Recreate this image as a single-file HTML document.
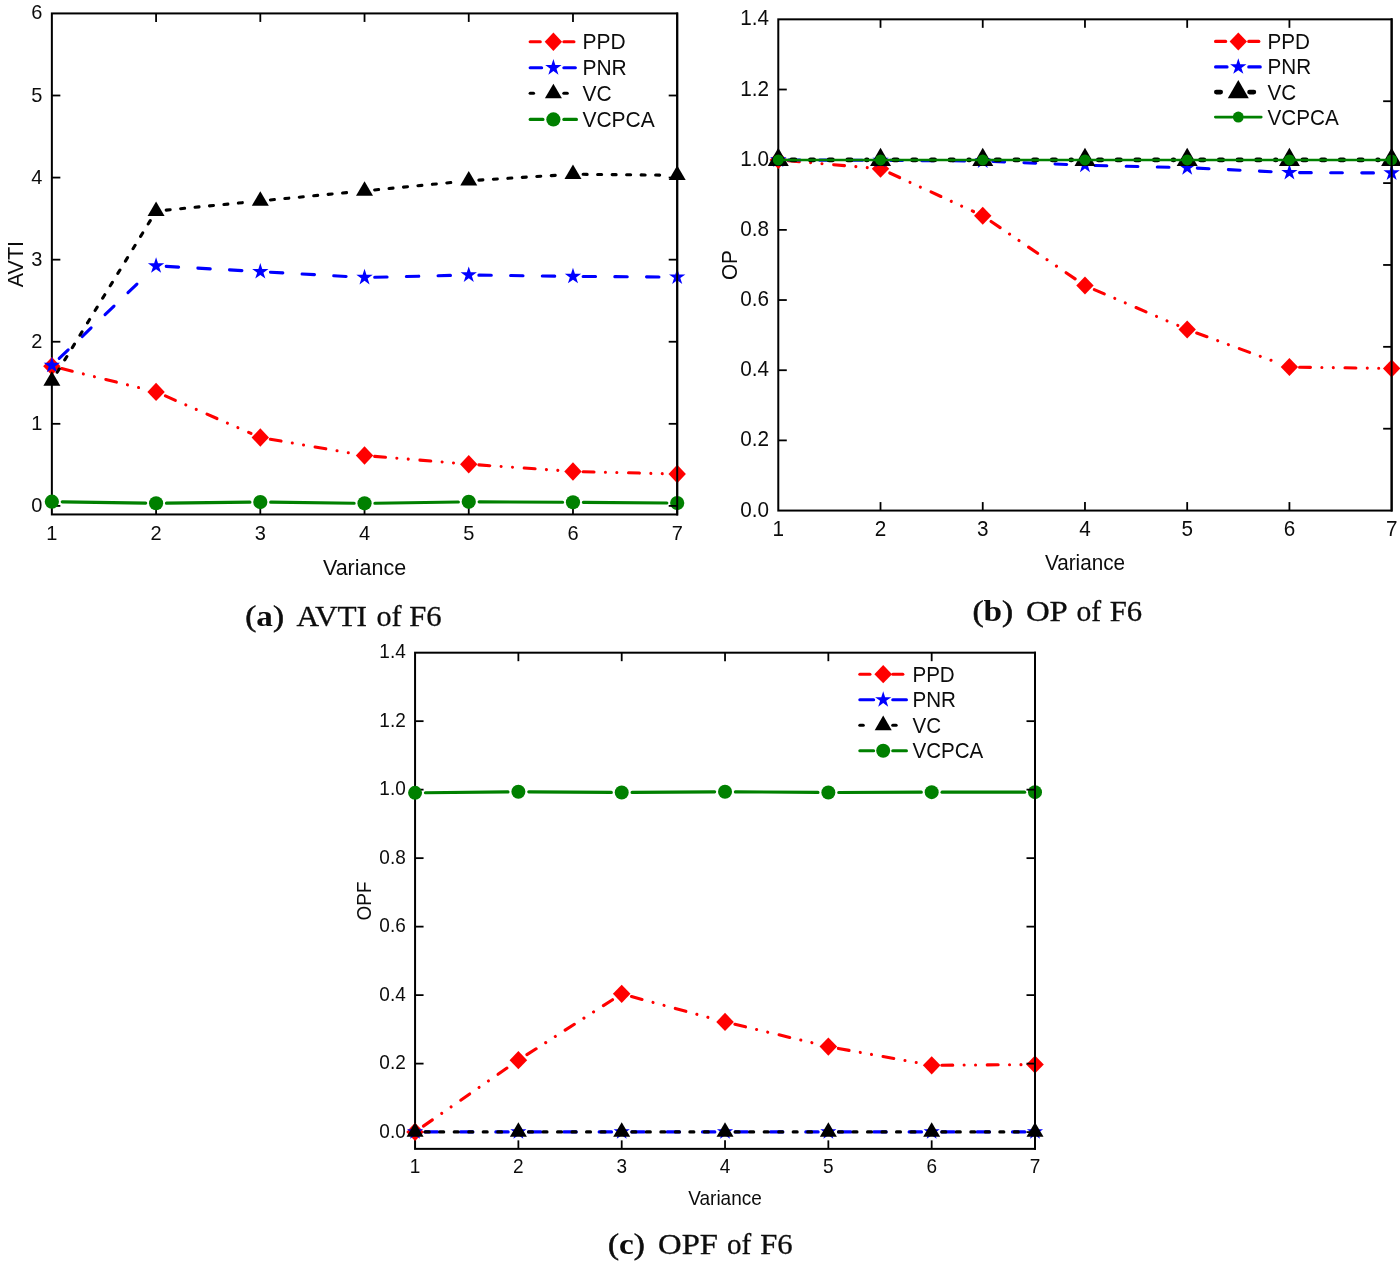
<!DOCTYPE html>
<html lang="en">
<head>
<meta charset="utf-8">
<title>Figure: AVTI, OP and OPF of F6</title>
<style>
html,body{margin:0;padding:0;background:#fff;}
body{width:1400px;height:1261px;overflow:hidden;}
svg{display:block;}
</style>
</head>
<body>
<svg width="1400" height="1261" viewBox="0 0 1400 1261">
<rect x="0" y="0" width="1400" height="1261" fill="#ffffff"/>
<line x1="51.86" y1="505.9" x2="60.36" y2="505.9" stroke="#000000" stroke-width="1.8"/>
<line x1="51.86" y1="423.82" x2="60.36" y2="423.82" stroke="#000000" stroke-width="1.8"/>
<line x1="51.86" y1="341.74" x2="60.36" y2="341.74" stroke="#000000" stroke-width="1.8"/>
<line x1="51.86" y1="259.66" x2="60.36" y2="259.66" stroke="#000000" stroke-width="1.8"/>
<line x1="51.86" y1="177.58" x2="60.36" y2="177.58" stroke="#000000" stroke-width="1.8"/>
<line x1="51.86" y1="95.5" x2="60.36" y2="95.5" stroke="#000000" stroke-width="1.8"/>
<line x1="156.08" y1="13.43" x2="156.08" y2="21.93" stroke="#000000" stroke-width="1.8"/>
<line x1="156.08" y1="505.95" x2="156.08" y2="514.45" stroke="#000000" stroke-width="1.8"/>
<line x1="260.31" y1="13.43" x2="260.31" y2="21.93" stroke="#000000" stroke-width="1.8"/>
<line x1="260.31" y1="505.95" x2="260.31" y2="514.45" stroke="#000000" stroke-width="1.8"/>
<line x1="364.53" y1="13.43" x2="364.53" y2="21.93" stroke="#000000" stroke-width="1.8"/>
<line x1="364.53" y1="505.95" x2="364.53" y2="514.45" stroke="#000000" stroke-width="1.8"/>
<line x1="468.75" y1="13.43" x2="468.75" y2="21.93" stroke="#000000" stroke-width="1.8"/>
<line x1="468.75" y1="505.95" x2="468.75" y2="514.45" stroke="#000000" stroke-width="1.8"/>
<line x1="572.98" y1="13.43" x2="572.98" y2="21.93" stroke="#000000" stroke-width="1.8"/>
<line x1="572.98" y1="505.95" x2="572.98" y2="514.45" stroke="#000000" stroke-width="1.8"/>
<rect x="51.86" y="13.43" width="625.34" height="501.02" fill="none" stroke="#000" stroke-width="2"/>
<text transform="translate(42.4 511.9) scale(1 1.04)" font-family="'Liberation Sans', Arial, sans-serif" font-size="20" fill="#0c0c0c" text-anchor="end">0</text>
<text transform="translate(42.4 429.82) scale(1 1.04)" font-family="'Liberation Sans', Arial, sans-serif" font-size="20" fill="#0c0c0c" text-anchor="end">1</text>
<text transform="translate(42.4 347.74) scale(1 1.04)" font-family="'Liberation Sans', Arial, sans-serif" font-size="20" fill="#0c0c0c" text-anchor="end">2</text>
<text transform="translate(42.4 265.66) scale(1 1.04)" font-family="'Liberation Sans', Arial, sans-serif" font-size="20" fill="#0c0c0c" text-anchor="end">3</text>
<text transform="translate(42.4 183.58) scale(1 1.04)" font-family="'Liberation Sans', Arial, sans-serif" font-size="20" fill="#0c0c0c" text-anchor="end">4</text>
<text transform="translate(42.4 101.5) scale(1 1.04)" font-family="'Liberation Sans', Arial, sans-serif" font-size="20" fill="#0c0c0c" text-anchor="end">5</text>
<text transform="translate(42.4 19.42) scale(1 1.04)" font-family="'Liberation Sans', Arial, sans-serif" font-size="20" fill="#0c0c0c" text-anchor="end">6</text>
<text transform="translate(51.86 540.1) scale(1 1.04)" font-family="'Liberation Sans', Arial, sans-serif" font-size="20" fill="#0c0c0c" text-anchor="middle">1</text>
<text transform="translate(156.08 540.1) scale(1 1.04)" font-family="'Liberation Sans', Arial, sans-serif" font-size="20" fill="#0c0c0c" text-anchor="middle">2</text>
<text transform="translate(260.31 540.1) scale(1 1.04)" font-family="'Liberation Sans', Arial, sans-serif" font-size="20" fill="#0c0c0c" text-anchor="middle">3</text>
<text transform="translate(364.53 540.1) scale(1 1.04)" font-family="'Liberation Sans', Arial, sans-serif" font-size="20" fill="#0c0c0c" text-anchor="middle">4</text>
<text transform="translate(468.75 540.1) scale(1 1.04)" font-family="'Liberation Sans', Arial, sans-serif" font-size="20" fill="#0c0c0c" text-anchor="middle">5</text>
<text transform="translate(572.98 540.1) scale(1 1.04)" font-family="'Liberation Sans', Arial, sans-serif" font-size="20" fill="#0c0c0c" text-anchor="middle">6</text>
<text transform="translate(677.2 540.1) scale(1 1.04)" font-family="'Liberation Sans', Arial, sans-serif" font-size="20" fill="#0c0c0c" text-anchor="middle">7</text>
<text transform="translate(364.53 575.2) scale(1 1.04)" font-family="'Liberation Sans', Arial, sans-serif" font-size="21.5" fill="#0c0c0c" text-anchor="middle">Variance</text>
<text transform="translate(23 264.1) rotate(-90) scale(1 1.04)" font-family="'Liberation Sans', Arial, sans-serif" font-size="21.5" fill="#0c0c0c" text-anchor="middle">AVTI</text>
<line x1="61.71" y1="368.58" x2="146.23" y2="389.44" stroke="#ff0000" stroke-width="3.1" stroke-dasharray="10.9 11.4 0.01 11.4 0.01 11.7" stroke-linecap="round"/>
<line x1="165.38" y1="395.95" x2="251.01" y2="433.43" stroke="#ff0000" stroke-width="3.1" stroke-dasharray="10.9 11.4 0.01 11.4 0.01 11.7" stroke-linecap="round"/>
<line x1="270.31" y1="439.23" x2="354.53" y2="453.77" stroke="#ff0000" stroke-width="3.1" stroke-dasharray="10.9 11.4 0.01 11.4 0.01 11.7" stroke-linecap="round"/>
<line x1="374.64" y1="456.35" x2="458.64" y2="463.37" stroke="#ff0000" stroke-width="3.1" stroke-dasharray="10.9 11.4 0.01 11.4 0.01 11.7" stroke-linecap="round"/>
<line x1="478.88" y1="464.92" x2="562.85" y2="470.74" stroke="#ff0000" stroke-width="3.1" stroke-dasharray="10.9 11.4 0.01 11.4 0.01 11.7" stroke-linecap="round"/>
<line x1="583.12" y1="471.7" x2="667.05" y2="473.75" stroke="#ff0000" stroke-width="3.1" stroke-dasharray="10.9 11.4 0.01 11.4 0.01 11.7" stroke-linecap="round"/>
<polygon points="51.86,356.95 60.56,366.15 51.86,375.35 43.16,366.15" fill="#ff0000"/>
<polygon points="156.08,382.68 164.78,391.88 156.08,401.08 147.38,391.88" fill="#ff0000"/>
<polygon points="260.31,428.3 269.01,437.5 260.31,446.7 251.61,437.5" fill="#ff0000"/>
<polygon points="364.53,446.3 373.23,455.5 364.53,464.7 355.83,455.5" fill="#ff0000"/>
<polygon points="468.75,455.01 477.45,464.21 468.75,473.41 460.05,464.21" fill="#ff0000"/>
<polygon points="572.98,462.25 581.68,471.45 572.98,480.65 564.28,471.45" fill="#ff0000"/>
<polygon points="677.2,464.8 685.9,474 677.2,483.2 668.5,474" fill="#ff0000"/>
<line x1="59.2" y1="358.4" x2="148.74" y2="272.88" stroke="#0000ff" stroke-width="3.1" stroke-dasharray="12.4 19.3" stroke-linecap="round"/>
<line x1="166.22" y1="266.42" x2="250.17" y2="271.06" stroke="#0000ff" stroke-width="3.1" stroke-dasharray="12.4 19.3" stroke-linecap="round"/>
<line x1="270.44" y1="272.19" x2="354.4" y2="276.89" stroke="#0000ff" stroke-width="3.1" stroke-dasharray="12.4 19.3" stroke-linecap="round"/>
<line x1="374.68" y1="277.22" x2="458.61" y2="275.23" stroke="#0000ff" stroke-width="3.1" stroke-dasharray="12.4 19.3" stroke-linecap="round"/>
<line x1="478.9" y1="275.13" x2="562.83" y2="276.25" stroke="#0000ff" stroke-width="3.1" stroke-dasharray="12.4 19.3" stroke-linecap="round"/>
<line x1="583.13" y1="276.45" x2="667.05" y2="276.98" stroke="#0000ff" stroke-width="3.1" stroke-dasharray="12.4 19.3" stroke-linecap="round"/>
<polygon points="51.86,356.81 53.79,362.75 60.04,362.75 54.98,366.42 56.91,372.37 51.86,368.69 46.81,372.37 48.74,366.42 43.68,362.75 49.93,362.75" fill="#0000ff"/>
<polygon points="156.08,257.26 158.01,263.21 164.26,263.21 159.21,266.88 161.14,272.82 156.08,269.15 151.03,272.82 152.96,266.88 147.9,263.21 154.15,263.21" fill="#0000ff"/>
<polygon points="260.31,263.02 262.24,268.96 268.49,268.96 263.43,272.63 265.36,278.58 260.31,274.9 255.25,278.58 257.18,272.63 252.13,268.96 258.38,268.96" fill="#0000ff"/>
<polygon points="364.53,268.86 366.46,274.8 372.71,274.8 367.65,278.47 369.58,284.41 364.53,280.74 359.48,284.41 361.41,278.47 356.35,274.8 362.6,274.8" fill="#0000ff"/>
<polygon points="468.75,266.39 470.68,272.33 476.93,272.33 471.88,276 473.81,281.95 468.75,278.27 463.7,281.95 465.63,276 460.57,272.33 466.82,272.33" fill="#0000ff"/>
<polygon points="572.98,267.79 574.91,273.73 581.16,273.73 576.1,277.4 578.03,283.34 572.98,279.67 567.92,283.34 569.85,277.4 564.8,273.73 571.05,273.73" fill="#0000ff"/>
<polygon points="677.2,268.44 679.13,274.39 685.38,274.39 680.32,278.06 682.25,284 677.2,280.33 672.15,284 674.08,278.06 669.02,274.39 675.27,274.39" fill="#0000ff"/>
<line x1="57.17" y1="372.29" x2="150.77" y2="219.77" stroke="#000000" stroke-width="3.1" stroke-dasharray="4 10.5" stroke-linecap="round"/>
<line x1="166.19" y1="210.13" x2="250.2" y2="201.91" stroke="#000000" stroke-width="3.1" stroke-dasharray="4 10.5" stroke-linecap="round"/>
<line x1="270.41" y1="199.95" x2="354.43" y2="191.87" stroke="#000000" stroke-width="3.1" stroke-dasharray="4 10.5" stroke-linecap="round"/>
<line x1="374.63" y1="189.92" x2="458.65" y2="181.77" stroke="#000000" stroke-width="3.1" stroke-dasharray="4 10.5" stroke-linecap="round"/>
<line x1="478.88" y1="180.15" x2="562.85" y2="174.85" stroke="#000000" stroke-width="3.1" stroke-dasharray="4 10.5" stroke-linecap="round"/>
<line x1="583.13" y1="174.32" x2="667.05" y2="175.18" stroke="#000000" stroke-width="3.1" stroke-dasharray="4 10.5" stroke-linecap="round"/>
<polygon points="51.86,371.28 60.36,385.78 43.36,385.78" fill="#000000"/>
<polygon points="156.08,201.45 164.58,215.95 147.58,215.95" fill="#000000"/>
<polygon points="260.31,191.26 268.81,205.76 251.81,205.76" fill="#000000"/>
<polygon points="364.53,181.23 373.03,195.73 356.03,195.73" fill="#000000"/>
<polygon points="468.75,171.12 477.25,185.62 460.25,185.62" fill="#000000"/>
<polygon points="572.98,164.55 581.48,179.05 564.48,179.05" fill="#000000"/>
<polygon points="677.2,165.61 685.7,180.11 668.7,180.11" fill="#000000"/>
<line x1="62.21" y1="501.85" x2="145.73" y2="503.1" stroke="#008000" stroke-width="3.1" stroke-linecap="round"/>
<line x1="166.43" y1="503.14" x2="249.96" y2="502.15" stroke="#008000" stroke-width="3.1" stroke-linecap="round"/>
<line x1="270.66" y1="502.16" x2="354.18" y2="503.21" stroke="#008000" stroke-width="3.1" stroke-linecap="round"/>
<line x1="374.88" y1="503.19" x2="458.4" y2="501.93" stroke="#008000" stroke-width="3.1" stroke-linecap="round"/>
<line x1="479.1" y1="501.83" x2="562.63" y2="502.22" stroke="#008000" stroke-width="3.1" stroke-linecap="round"/>
<line x1="583.33" y1="502.35" x2="666.85" y2="503.01" stroke="#008000" stroke-width="3.1" stroke-linecap="round"/>
<circle cx="51.86" cy="501.7" r="7.1" fill="#008000"/>
<circle cx="156.08" cy="503.26" r="7.1" fill="#008000"/>
<circle cx="260.31" cy="502.03" r="7.1" fill="#008000"/>
<circle cx="364.53" cy="503.34" r="7.1" fill="#008000"/>
<circle cx="468.75" cy="501.78" r="7.1" fill="#008000"/>
<circle cx="572.98" cy="502.27" r="7.1" fill="#008000"/>
<circle cx="677.2" cy="503.09" r="7.1" fill="#008000"/>
<line x1="668.7" y1="505.9" x2="677.2" y2="505.9" stroke="#000000" stroke-width="1.8"/>
<line x1="668.7" y1="423.82" x2="677.2" y2="423.82" stroke="#000000" stroke-width="1.8"/>
<line x1="668.7" y1="341.74" x2="677.2" y2="341.74" stroke="#000000" stroke-width="1.8"/>
<line x1="668.7" y1="259.66" x2="677.2" y2="259.66" stroke="#000000" stroke-width="1.8"/>
<line x1="668.7" y1="177.58" x2="677.2" y2="177.58" stroke="#000000" stroke-width="1.8"/>
<line x1="668.7" y1="95.5" x2="677.2" y2="95.5" stroke="#000000" stroke-width="1.8"/>
<line x1="677.2" y1="12.43" x2="677.2" y2="515.45" stroke="#000000" stroke-width="2"/>
<line x1="530.15" y1="41.7" x2="540.25" y2="41.7" stroke="#ff0000" stroke-width="3.1" stroke-linecap="round"/>
<line x1="563.85" y1="41.7" x2="573.95" y2="41.7" stroke="#ff0000" stroke-width="3.1" stroke-linecap="round"/>
<polygon points="553.4,32.5 562.1,41.7 553.4,50.9 544.7,41.7" fill="#ff0000"/>
<line x1="530.15" y1="67.7" x2="541.65" y2="67.7" stroke="#0000ff" stroke-width="3.1" stroke-linecap="round"/>
<line x1="563.85" y1="67.7" x2="575.35" y2="67.7" stroke="#0000ff" stroke-width="3.1" stroke-linecap="round"/>
<polygon points="553.4,59.1 555.33,65.04 561.58,65.04 556.52,68.72 558.45,74.66 553.4,70.99 548.35,74.66 550.28,68.72 545.22,65.04 551.47,65.04" fill="#0000ff"/>
<line x1="530.15" y1="93.3" x2="533.55" y2="93.3" stroke="#000000" stroke-width="3.1" stroke-linecap="round"/>
<line x1="563.85" y1="93.3" x2="567.25" y2="93.3" stroke="#000000" stroke-width="3.1" stroke-linecap="round"/>
<polygon points="553.4,83.63 561.9,98.13 544.9,98.13" fill="#000000"/>
<line x1="530.15" y1="119.4" x2="542.95" y2="119.4" stroke="#008000" stroke-width="3.1" stroke-linecap="round"/>
<line x1="563.85" y1="119.4" x2="576.45" y2="119.4" stroke="#008000" stroke-width="3.1" stroke-linecap="round"/>
<circle cx="553.4" cy="119.4" r="7.1" fill="#008000"/>
<text transform="translate(582.4 49.1) scale(1 1.04)" font-family="'Liberation Sans', Arial, sans-serif" font-size="21" fill="#0c0c0c">PPD</text>
<text transform="translate(582.4 75.1) scale(1 1.04)" font-family="'Liberation Sans', Arial, sans-serif" font-size="21" fill="#0c0c0c">PNR</text>
<text transform="translate(582.4 100.7) scale(1 1.04)" font-family="'Liberation Sans', Arial, sans-serif" font-size="21" fill="#0c0c0c">VC</text>
<text transform="translate(582.4 126.8) scale(1 1.04)" font-family="'Liberation Sans', Arial, sans-serif" font-size="21" fill="#0c0c0c">VCPCA</text>
<line x1="778.29" y1="440.39" x2="786.79" y2="440.39" stroke="#000000" stroke-width="1.8"/>
<line x1="778.29" y1="370.22" x2="786.79" y2="370.22" stroke="#000000" stroke-width="1.8"/>
<line x1="778.29" y1="300.04" x2="786.79" y2="300.04" stroke="#000000" stroke-width="1.8"/>
<line x1="778.29" y1="229.87" x2="786.79" y2="229.87" stroke="#000000" stroke-width="1.8"/>
<line x1="778.29" y1="159.69" x2="786.79" y2="159.69" stroke="#000000" stroke-width="1.8"/>
<line x1="778.29" y1="89.51" x2="786.79" y2="89.51" stroke="#000000" stroke-width="1.8"/>
<line x1="880.51" y1="19.34" x2="880.51" y2="27.84" stroke="#000000" stroke-width="1.8"/>
<line x1="880.51" y1="502.07" x2="880.51" y2="510.57" stroke="#000000" stroke-width="1.8"/>
<line x1="982.74" y1="19.34" x2="982.74" y2="27.84" stroke="#000000" stroke-width="1.8"/>
<line x1="982.74" y1="502.07" x2="982.74" y2="510.57" stroke="#000000" stroke-width="1.8"/>
<line x1="1084.97" y1="19.34" x2="1084.97" y2="27.84" stroke="#000000" stroke-width="1.8"/>
<line x1="1084.97" y1="502.07" x2="1084.97" y2="510.57" stroke="#000000" stroke-width="1.8"/>
<line x1="1187.19" y1="19.34" x2="1187.19" y2="27.84" stroke="#000000" stroke-width="1.8"/>
<line x1="1187.19" y1="502.07" x2="1187.19" y2="510.57" stroke="#000000" stroke-width="1.8"/>
<line x1="1289.42" y1="19.34" x2="1289.42" y2="27.84" stroke="#000000" stroke-width="1.8"/>
<line x1="1289.42" y1="502.07" x2="1289.42" y2="510.57" stroke="#000000" stroke-width="1.8"/>
<rect x="778.29" y="19.34" width="613.35" height="491.23" fill="none" stroke="#000" stroke-width="2"/>
<text transform="translate(769 516.57) scale(1 1.04)" font-family="'Liberation Sans', Arial, sans-serif" font-size="20.7" fill="#0c0c0c" text-anchor="end">0.0</text>
<text transform="translate(769 446.39) scale(1 1.04)" font-family="'Liberation Sans', Arial, sans-serif" font-size="20.7" fill="#0c0c0c" text-anchor="end">0.2</text>
<text transform="translate(769 376.22) scale(1 1.04)" font-family="'Liberation Sans', Arial, sans-serif" font-size="20.7" fill="#0c0c0c" text-anchor="end">0.4</text>
<text transform="translate(769 306.04) scale(1 1.04)" font-family="'Liberation Sans', Arial, sans-serif" font-size="20.7" fill="#0c0c0c" text-anchor="end">0.6</text>
<text transform="translate(769 235.87) scale(1 1.04)" font-family="'Liberation Sans', Arial, sans-serif" font-size="20.7" fill="#0c0c0c" text-anchor="end">0.8</text>
<text transform="translate(769 165.69) scale(1 1.04)" font-family="'Liberation Sans', Arial, sans-serif" font-size="20.7" fill="#0c0c0c" text-anchor="end">1.0</text>
<text transform="translate(769 95.51) scale(1 1.04)" font-family="'Liberation Sans', Arial, sans-serif" font-size="20.7" fill="#0c0c0c" text-anchor="end">1.2</text>
<text transform="translate(769 25.34) scale(1 1.04)" font-family="'Liberation Sans', Arial, sans-serif" font-size="20.7" fill="#0c0c0c" text-anchor="end">1.4</text>
<text transform="translate(778.29 535.8) scale(1 1.04)" font-family="'Liberation Sans', Arial, sans-serif" font-size="20.7" fill="#0c0c0c" text-anchor="middle">1</text>
<text transform="translate(880.51 535.8) scale(1 1.04)" font-family="'Liberation Sans', Arial, sans-serif" font-size="20.7" fill="#0c0c0c" text-anchor="middle">2</text>
<text transform="translate(982.74 535.8) scale(1 1.04)" font-family="'Liberation Sans', Arial, sans-serif" font-size="20.7" fill="#0c0c0c" text-anchor="middle">3</text>
<text transform="translate(1084.97 535.8) scale(1 1.04)" font-family="'Liberation Sans', Arial, sans-serif" font-size="20.7" fill="#0c0c0c" text-anchor="middle">4</text>
<text transform="translate(1187.19 535.8) scale(1 1.04)" font-family="'Liberation Sans', Arial, sans-serif" font-size="20.7" fill="#0c0c0c" text-anchor="middle">5</text>
<text transform="translate(1289.42 535.8) scale(1 1.04)" font-family="'Liberation Sans', Arial, sans-serif" font-size="20.7" fill="#0c0c0c" text-anchor="middle">6</text>
<text transform="translate(1391.64 535.8) scale(1 1.04)" font-family="'Liberation Sans', Arial, sans-serif" font-size="20.7" fill="#0c0c0c" text-anchor="middle">7</text>
<text transform="translate(1084.97 570.4) scale(1 1.04)" font-family="'Liberation Sans', Arial, sans-serif" font-size="20.7" fill="#0c0c0c" text-anchor="middle">Variance</text>
<text transform="translate(736.6 265.1) rotate(-90) scale(1 1.04)" font-family="'Liberation Sans', Arial, sans-serif" font-size="20.7" fill="#0c0c0c" text-anchor="middle">OP</text>
<line x1="788.4" y1="160.82" x2="870.4" y2="167.86" stroke="#ff0000" stroke-width="3.1" stroke-dasharray="10.9 11.4 0.01 11.4 0.01 11.7" stroke-linecap="round"/>
<line x1="889.74" y1="172.97" x2="973.52" y2="211.52" stroke="#ff0000" stroke-width="3.1" stroke-dasharray="10.9 11.4 0.01 11.4 0.01 11.7" stroke-linecap="round"/>
<line x1="991.12" y1="221.49" x2="1076.58" y2="279.88" stroke="#ff0000" stroke-width="3.1" stroke-dasharray="10.9 11.4 0.01 11.4 0.01 11.7" stroke-linecap="round"/>
<line x1="1094.29" y1="289.61" x2="1177.86" y2="325.48" stroke="#ff0000" stroke-width="3.1" stroke-dasharray="10.9 11.4 0.01 11.4 0.01 11.7" stroke-linecap="round"/>
<line x1="1196.72" y1="332.98" x2="1279.89" y2="363.54" stroke="#ff0000" stroke-width="3.1" stroke-dasharray="10.9 11.4 0.01 11.4 0.01 11.7" stroke-linecap="round"/>
<line x1="1299.56" y1="367.18" x2="1381.49" y2="368.3" stroke="#ff0000" stroke-width="3.1" stroke-dasharray="10.9 11.4 0.01 11.4 0.01 11.7" stroke-linecap="round"/>
<polygon points="778.29,150.95 786.99,159.95 778.29,168.95 769.59,159.95" fill="#ff0000"/>
<polygon points="880.51,159.73 889.22,168.73 880.51,177.73 871.81,168.73" fill="#ff0000"/>
<polygon points="982.74,206.76 991.44,215.76 982.74,224.76 974.04,215.76" fill="#ff0000"/>
<polygon points="1084.97,276.61 1093.67,285.61 1084.97,294.61 1076.27,285.61" fill="#ff0000"/>
<polygon points="1187.19,320.48 1195.89,329.48 1187.19,338.48 1178.49,329.48" fill="#ff0000"/>
<polygon points="1289.42,358.04 1298.12,367.04 1289.42,376.04 1280.72,367.04" fill="#ff0000"/>
<polygon points="1391.64,359.44 1400.34,368.44 1391.64,377.44 1382.94,368.44" fill="#ff0000"/>
<line x1="788.44" y1="159.98" x2="870.37" y2="160.27" stroke="#0000ff" stroke-width="3.1" stroke-dasharray="11.7 19.4" stroke-linecap="round"/>
<line x1="890.66" y1="160.37" x2="972.59" y2="160.93" stroke="#0000ff" stroke-width="3.1" stroke-dasharray="11.7 19.4" stroke-linecap="round"/>
<line x1="992.88" y1="161.42" x2="1074.82" y2="164.8" stroke="#0000ff" stroke-width="3.1" stroke-dasharray="11.7 19.4" stroke-linecap="round"/>
<line x1="1095.11" y1="165.46" x2="1177.04" y2="167.43" stroke="#0000ff" stroke-width="3.1" stroke-dasharray="11.7 19.4" stroke-linecap="round"/>
<line x1="1197.33" y1="168.16" x2="1279.28" y2="172.1" stroke="#0000ff" stroke-width="3.1" stroke-dasharray="11.7 19.4" stroke-linecap="round"/>
<line x1="1299.56" y1="172.62" x2="1381.49" y2="172.9" stroke="#0000ff" stroke-width="3.1" stroke-dasharray="11.7 19.4" stroke-linecap="round"/>
<polygon points="778.29,151.35 780.22,157.29 786.47,157.29 781.41,160.97 783.34,166.91 778.29,163.24 773.24,166.91 775.17,160.97 770.11,157.29 776.36,157.29" fill="#0000ff"/>
<polygon points="880.51,151.7 882.45,157.64 888.69,157.64 883.64,161.32 885.57,167.26 880.51,163.59 875.46,167.26 877.39,161.32 872.34,157.64 878.58,157.64" fill="#0000ff"/>
<polygon points="982.74,152.4 984.67,158.35 990.92,158.35 985.86,162.02 987.79,167.96 982.74,164.29 977.69,167.96 979.62,162.02 974.56,158.35 980.81,158.35" fill="#0000ff"/>
<polygon points="1084.97,156.61 1086.9,162.56 1093.14,162.56 1088.09,166.23 1090.02,172.17 1084.97,168.5 1079.91,172.17 1081.84,166.23 1076.79,162.56 1083.03,162.56" fill="#0000ff"/>
<polygon points="1187.19,159.07 1189.12,165.01 1195.37,165.01 1190.31,168.69 1192.24,174.63 1187.19,170.96 1182.14,174.63 1184.07,168.69 1179.01,165.01 1185.26,165.01" fill="#0000ff"/>
<polygon points="1289.42,163.99 1291.35,169.93 1297.59,169.93 1292.54,173.6 1294.47,179.54 1289.42,175.87 1284.36,179.54 1286.29,173.6 1281.24,169.93 1287.48,169.93" fill="#0000ff"/>
<polygon points="1391.64,164.34 1393.57,170.28 1399.82,170.28 1394.76,173.95 1396.69,179.89 1391.64,176.22 1386.59,179.89 1388.52,173.95 1383.46,170.28 1389.71,170.28" fill="#0000ff"/>
<line x1="791.64" y1="159.95" x2="867.16" y2="159.95" stroke="#000000" stroke-width="4.7" stroke-dasharray="3.4 15.3" stroke-linecap="round"/>
<line x1="893.87" y1="159.95" x2="969.39" y2="159.95" stroke="#000000" stroke-width="4.7" stroke-dasharray="3.4 15.3" stroke-linecap="round"/>
<line x1="996.09" y1="159.95" x2="1071.62" y2="159.95" stroke="#000000" stroke-width="4.7" stroke-dasharray="3.4 15.3" stroke-linecap="round"/>
<line x1="1098.32" y1="159.95" x2="1173.84" y2="159.95" stroke="#000000" stroke-width="4.7" stroke-dasharray="3.4 15.3" stroke-linecap="round"/>
<line x1="1200.54" y1="159.95" x2="1276.07" y2="159.95" stroke="#000000" stroke-width="4.7" stroke-dasharray="3.4 15.3" stroke-linecap="round"/>
<line x1="1302.77" y1="159.95" x2="1378.29" y2="159.95" stroke="#000000" stroke-width="4.7" stroke-dasharray="3.4 15.3" stroke-linecap="round"/>
<polygon points="778.29,147.82 788.79,166.02 767.79,166.02" fill="#000000"/>
<polygon points="880.51,147.82 891.01,166.02 870.01,166.02" fill="#000000"/>
<polygon points="982.74,147.82 993.24,166.02 972.24,166.02" fill="#000000"/>
<polygon points="1084.97,147.82 1095.47,166.02 1074.47,166.02" fill="#000000"/>
<polygon points="1187.19,147.82 1197.69,166.02 1176.69,166.02" fill="#000000"/>
<polygon points="1289.42,147.82 1299.92,166.02 1278.92,166.02" fill="#000000"/>
<polygon points="1391.64,147.82 1402.14,166.02 1381.14,166.02" fill="#000000"/>
<line x1="784.09" y1="159.95" x2="874.72" y2="159.95" stroke="#008000" stroke-width="2.6" stroke-linecap="round"/>
<line x1="886.31" y1="159.95" x2="976.94" y2="159.95" stroke="#008000" stroke-width="2.6" stroke-linecap="round"/>
<line x1="988.54" y1="159.95" x2="1079.17" y2="159.95" stroke="#008000" stroke-width="2.6" stroke-linecap="round"/>
<line x1="1090.77" y1="159.95" x2="1181.39" y2="159.95" stroke="#008000" stroke-width="2.6" stroke-linecap="round"/>
<line x1="1192.99" y1="159.95" x2="1283.62" y2="159.95" stroke="#008000" stroke-width="2.6" stroke-linecap="round"/>
<line x1="1295.22" y1="159.95" x2="1385.84" y2="159.95" stroke="#008000" stroke-width="2.6" stroke-linecap="round"/>
<circle cx="778.29" cy="159.95" r="5.5" fill="#008000"/>
<circle cx="880.51" cy="159.95" r="5.5" fill="#008000"/>
<circle cx="982.74" cy="159.95" r="5.5" fill="#008000"/>
<circle cx="1084.97" cy="159.95" r="5.5" fill="#008000"/>
<circle cx="1187.19" cy="159.95" r="5.5" fill="#008000"/>
<circle cx="1289.42" cy="159.95" r="5.5" fill="#008000"/>
<circle cx="1391.64" cy="159.95" r="5.5" fill="#008000"/>
<line x1="1383.14" y1="428.7" x2="1391.64" y2="428.7" stroke="#000000" stroke-width="1.8"/>
<line x1="1383.14" y1="346.83" x2="1391.64" y2="346.83" stroke="#000000" stroke-width="1.8"/>
<line x1="1383.14" y1="264.96" x2="1391.64" y2="264.96" stroke="#000000" stroke-width="1.8"/>
<line x1="1383.14" y1="183.09" x2="1391.64" y2="183.09" stroke="#000000" stroke-width="1.8"/>
<line x1="1383.14" y1="101.22" x2="1391.64" y2="101.22" stroke="#000000" stroke-width="1.8"/>
<line x1="1391.64" y1="18.34" x2="1391.64" y2="511.57" stroke="#000000" stroke-width="2"/>
<line x1="1215.55" y1="41.4" x2="1225.65" y2="41.4" stroke="#ff0000" stroke-width="3.1" stroke-linecap="round"/>
<line x1="1248.75" y1="41.4" x2="1258.85" y2="41.4" stroke="#ff0000" stroke-width="3.1" stroke-linecap="round"/>
<polygon points="1238.3,32.4 1247,41.4 1238.3,50.4 1229.6,41.4" fill="#ff0000"/>
<line x1="1215.55" y1="66.9" x2="1227.05" y2="66.9" stroke="#0000ff" stroke-width="3.1" stroke-linecap="round"/>
<line x1="1248.75" y1="66.9" x2="1260.25" y2="66.9" stroke="#0000ff" stroke-width="3.1" stroke-linecap="round"/>
<polygon points="1238.3,58.3 1240.23,64.24 1246.48,64.24 1241.42,67.92 1243.35,73.86 1238.3,70.19 1233.25,73.86 1235.18,67.92 1230.12,64.24 1236.37,64.24" fill="#0000ff"/>
<line x1="1216.35" y1="92.1" x2="1220.65" y2="92.1" stroke="#000000" stroke-width="4.7" stroke-linecap="round"/>
<line x1="1249.55" y1="92.1" x2="1253.85" y2="92.1" stroke="#000000" stroke-width="4.7" stroke-linecap="round"/>
<polygon points="1238.3,79.97 1248.8,98.17 1227.8,98.17" fill="#000000"/>
<line x1="1215.3" y1="117.1" x2="1232.5" y2="117.1" stroke="#008000" stroke-width="2.6" stroke-linecap="round"/>
<line x1="1244.1" y1="117.1" x2="1261.3" y2="117.1" stroke="#008000" stroke-width="2.6" stroke-linecap="round"/>
<circle cx="1238.3" cy="117.1" r="5.5" fill="#008000"/>
<text transform="translate(1267.4 48.8) scale(1 1.04)" font-family="'Liberation Sans', Arial, sans-serif" font-size="20.7" fill="#0c0c0c">PPD</text>
<text transform="translate(1267.4 74.3) scale(1 1.04)" font-family="'Liberation Sans', Arial, sans-serif" font-size="20.7" fill="#0c0c0c">PNR</text>
<text transform="translate(1267.4 99.5) scale(1 1.04)" font-family="'Liberation Sans', Arial, sans-serif" font-size="20.7" fill="#0c0c0c">VC</text>
<text transform="translate(1267.4 124.5) scale(1 1.04)" font-family="'Liberation Sans', Arial, sans-serif" font-size="20.7" fill="#0c0c0c">VCPCA</text>
<line x1="415.06" y1="1132.1" x2="423.56" y2="1132.1" stroke="#000000" stroke-width="1.8"/>
<line x1="415.06" y1="1063.61" x2="423.56" y2="1063.61" stroke="#000000" stroke-width="1.8"/>
<line x1="415.06" y1="995.12" x2="423.56" y2="995.12" stroke="#000000" stroke-width="1.8"/>
<line x1="415.06" y1="926.63" x2="423.56" y2="926.63" stroke="#000000" stroke-width="1.8"/>
<line x1="415.06" y1="858.14" x2="423.56" y2="858.14" stroke="#000000" stroke-width="1.8"/>
<line x1="415.06" y1="789.65" x2="423.56" y2="789.65" stroke="#000000" stroke-width="1.8"/>
<line x1="415.06" y1="721.16" x2="423.56" y2="721.16" stroke="#000000" stroke-width="1.8"/>
<line x1="518.38" y1="652.69" x2="518.38" y2="661.19" stroke="#000000" stroke-width="1.8"/>
<line x1="518.38" y1="1140.36" x2="518.38" y2="1148.86" stroke="#000000" stroke-width="1.8"/>
<line x1="621.71" y1="652.69" x2="621.71" y2="661.19" stroke="#000000" stroke-width="1.8"/>
<line x1="621.71" y1="1140.36" x2="621.71" y2="1148.86" stroke="#000000" stroke-width="1.8"/>
<line x1="725.03" y1="652.69" x2="725.03" y2="661.19" stroke="#000000" stroke-width="1.8"/>
<line x1="725.03" y1="1140.36" x2="725.03" y2="1148.86" stroke="#000000" stroke-width="1.8"/>
<line x1="828.35" y1="652.69" x2="828.35" y2="661.19" stroke="#000000" stroke-width="1.8"/>
<line x1="828.35" y1="1140.36" x2="828.35" y2="1148.86" stroke="#000000" stroke-width="1.8"/>
<line x1="931.68" y1="652.69" x2="931.68" y2="661.19" stroke="#000000" stroke-width="1.8"/>
<line x1="931.68" y1="1140.36" x2="931.68" y2="1148.86" stroke="#000000" stroke-width="1.8"/>
<rect x="415.06" y="652.69" width="619.94" height="496.17" fill="none" stroke="#000" stroke-width="2"/>
<text transform="translate(405.75 1137.9) scale(1 1.04)" font-family="'Liberation Sans', Arial, sans-serif" font-size="19" fill="#0c0c0c" text-anchor="end">0.0</text>
<text transform="translate(405.75 1069.41) scale(1 1.04)" font-family="'Liberation Sans', Arial, sans-serif" font-size="19" fill="#0c0c0c" text-anchor="end">0.2</text>
<text transform="translate(405.75 1000.92) scale(1 1.04)" font-family="'Liberation Sans', Arial, sans-serif" font-size="19" fill="#0c0c0c" text-anchor="end">0.4</text>
<text transform="translate(405.75 932.43) scale(1 1.04)" font-family="'Liberation Sans', Arial, sans-serif" font-size="19" fill="#0c0c0c" text-anchor="end">0.6</text>
<text transform="translate(405.75 863.94) scale(1 1.04)" font-family="'Liberation Sans', Arial, sans-serif" font-size="19" fill="#0c0c0c" text-anchor="end">0.8</text>
<text transform="translate(405.75 795.45) scale(1 1.04)" font-family="'Liberation Sans', Arial, sans-serif" font-size="19" fill="#0c0c0c" text-anchor="end">1.0</text>
<text transform="translate(405.75 726.96) scale(1 1.04)" font-family="'Liberation Sans', Arial, sans-serif" font-size="19" fill="#0c0c0c" text-anchor="end">1.2</text>
<text transform="translate(405.75 658.47) scale(1 1.04)" font-family="'Liberation Sans', Arial, sans-serif" font-size="19" fill="#0c0c0c" text-anchor="end">1.4</text>
<text transform="translate(415.06 1172.8) scale(1 1.04)" font-family="'Liberation Sans', Arial, sans-serif" font-size="19" fill="#0c0c0c" text-anchor="middle">1</text>
<text transform="translate(518.38 1172.8) scale(1 1.04)" font-family="'Liberation Sans', Arial, sans-serif" font-size="19" fill="#0c0c0c" text-anchor="middle">2</text>
<text transform="translate(621.71 1172.8) scale(1 1.04)" font-family="'Liberation Sans', Arial, sans-serif" font-size="19" fill="#0c0c0c" text-anchor="middle">3</text>
<text transform="translate(725.03 1172.8) scale(1 1.04)" font-family="'Liberation Sans', Arial, sans-serif" font-size="19" fill="#0c0c0c" text-anchor="middle">4</text>
<text transform="translate(828.35 1172.8) scale(1 1.04)" font-family="'Liberation Sans', Arial, sans-serif" font-size="19" fill="#0c0c0c" text-anchor="middle">5</text>
<text transform="translate(931.68 1172.8) scale(1 1.04)" font-family="'Liberation Sans', Arial, sans-serif" font-size="19" fill="#0c0c0c" text-anchor="middle">6</text>
<text transform="translate(1035 1172.8) scale(1 1.04)" font-family="'Liberation Sans', Arial, sans-serif" font-size="19" fill="#0c0c0c" text-anchor="middle">7</text>
<text transform="translate(725.03 1205.2) scale(1 1.04)" font-family="'Liberation Sans', Arial, sans-serif" font-size="19" fill="#0c0c0c" text-anchor="middle">Variance</text>
<text transform="translate(370.5 901) rotate(-90) scale(1 1.04)" font-family="'Liberation Sans', Arial, sans-serif" font-size="19" fill="#0c0c0c" text-anchor="middle">OPF</text>
<line x1="423.4" y1="1126.11" x2="510.05" y2="1065.94" stroke="#ff0000" stroke-width="3.1" stroke-dasharray="10.9 11.4 0.01 11.4 0.01 11.7" stroke-linecap="round"/>
<line x1="526.93" y1="1054.67" x2="613.16" y2="999.35" stroke="#ff0000" stroke-width="3.1" stroke-dasharray="10.9 11.4 0.01 11.4 0.01 11.7" stroke-linecap="round"/>
<line x1="631.5" y1="996.53" x2="715.24" y2="1019.3" stroke="#ff0000" stroke-width="3.1" stroke-dasharray="10.9 11.4 0.01 11.4 0.01 11.7" stroke-linecap="round"/>
<line x1="734.9" y1="1024.31" x2="818.48" y2="1044.26" stroke="#ff0000" stroke-width="3.1" stroke-dasharray="10.9 11.4 0.01 11.4 0.01 11.7" stroke-linecap="round"/>
<line x1="838.34" y1="1048.43" x2="921.69" y2="1063.51" stroke="#ff0000" stroke-width="3.1" stroke-dasharray="10.9 11.4 0.01 11.4 0.01 11.7" stroke-linecap="round"/>
<line x1="941.83" y1="1065.24" x2="1024.85" y2="1064.58" stroke="#ff0000" stroke-width="3.1" stroke-dasharray="10.9 11.4 0.01 11.4 0.01 11.7" stroke-linecap="round"/>
<polygon points="415.06,1122.8 423.86,1131.9 415.06,1141 406.26,1131.9" fill="#ff0000"/>
<polygon points="518.38,1051.05 527.18,1060.15 518.38,1069.25 509.58,1060.15" fill="#ff0000"/>
<polygon points="621.71,984.77 630.51,993.87 621.71,1002.97 612.91,993.87" fill="#ff0000"/>
<polygon points="725.03,1012.86 733.83,1021.96 725.03,1031.06 716.23,1021.96" fill="#ff0000"/>
<polygon points="828.35,1037.52 837.15,1046.62 828.35,1055.72 819.55,1046.62" fill="#ff0000"/>
<polygon points="931.68,1056.22 940.48,1065.32 931.68,1074.42 922.88,1065.32" fill="#ff0000"/>
<polygon points="1035,1055.4 1043.8,1064.5 1035,1073.6 1026.2,1064.5" fill="#ff0000"/>
<line x1="425.21" y1="1131.9" x2="508.23" y2="1131.9" stroke="#0000ff" stroke-width="3.1" stroke-dasharray="12.4 22.9" stroke-linecap="round"/>
<line x1="528.53" y1="1131.9" x2="611.56" y2="1131.9" stroke="#0000ff" stroke-width="3.1" stroke-dasharray="12.4 22.9" stroke-linecap="round"/>
<line x1="631.86" y1="1131.9" x2="714.88" y2="1131.9" stroke="#0000ff" stroke-width="3.1" stroke-dasharray="12.4 22.9" stroke-linecap="round"/>
<line x1="735.18" y1="1131.9" x2="818.2" y2="1131.9" stroke="#0000ff" stroke-width="3.1" stroke-dasharray="12.4 22.9" stroke-linecap="round"/>
<line x1="838.5" y1="1131.9" x2="921.53" y2="1131.9" stroke="#0000ff" stroke-width="3.1" stroke-dasharray="12.4 22.9" stroke-linecap="round"/>
<line x1="941.83" y1="1131.9" x2="1024.85" y2="1131.9" stroke="#0000ff" stroke-width="3.1" stroke-dasharray="12.4 22.9" stroke-linecap="round"/>
<polygon points="415.06,1123.4 416.97,1129.27 423.14,1129.27 418.15,1132.9 420.06,1138.78 415.06,1135.15 410.06,1138.78 411.97,1132.9 406.98,1129.27 413.15,1129.27" fill="#0000ff"/>
<polygon points="518.38,1123.4 520.29,1129.27 526.47,1129.27 521.47,1132.9 523.38,1138.78 518.38,1135.15 513.39,1138.78 515.3,1132.9 510.3,1129.27 516.47,1129.27" fill="#0000ff"/>
<polygon points="621.71,1123.4 623.62,1129.27 629.79,1129.27 624.79,1132.9 626.7,1138.78 621.71,1135.15 616.71,1138.78 618.62,1132.9 613.62,1129.27 619.8,1129.27" fill="#0000ff"/>
<polygon points="725.03,1123.4 726.94,1129.27 733.11,1129.27 728.12,1132.9 730.03,1138.78 725.03,1135.15 720.03,1138.78 721.94,1132.9 716.95,1129.27 723.12,1129.27" fill="#0000ff"/>
<polygon points="828.35,1123.4 830.26,1129.27 836.44,1129.27 831.44,1132.9 833.35,1138.78 828.35,1135.15 823.36,1138.78 825.27,1132.9 820.27,1129.27 826.44,1129.27" fill="#0000ff"/>
<polygon points="931.68,1123.4 933.59,1129.27 939.76,1129.27 934.76,1132.9 936.67,1138.78 931.68,1135.15 926.68,1138.78 928.59,1132.9 923.59,1129.27 929.77,1129.27" fill="#0000ff"/>
<polygon points="1035,1123.4 1036.91,1129.27 1043.08,1129.27 1038.09,1132.9 1040,1138.78 1035,1135.15 1030,1138.78 1031.91,1132.9 1026.92,1129.27 1033.09,1129.27" fill="#0000ff"/>
<line x1="425.21" y1="1131.9" x2="508.23" y2="1131.9" stroke="#000000" stroke-width="3.1" stroke-dasharray="4 10.5" stroke-linecap="round"/>
<line x1="528.53" y1="1131.9" x2="611.56" y2="1131.9" stroke="#000000" stroke-width="3.1" stroke-dasharray="4 10.5" stroke-linecap="round"/>
<line x1="631.86" y1="1131.9" x2="714.88" y2="1131.9" stroke="#000000" stroke-width="3.1" stroke-dasharray="4 10.5" stroke-linecap="round"/>
<line x1="735.18" y1="1131.9" x2="818.2" y2="1131.9" stroke="#000000" stroke-width="3.1" stroke-dasharray="4 10.5" stroke-linecap="round"/>
<line x1="838.5" y1="1131.9" x2="921.53" y2="1131.9" stroke="#000000" stroke-width="3.1" stroke-dasharray="4 10.5" stroke-linecap="round"/>
<line x1="941.83" y1="1131.9" x2="1024.85" y2="1131.9" stroke="#000000" stroke-width="3.1" stroke-dasharray="4 10.5" stroke-linecap="round"/>
<polygon points="415.06,1122.17 423.56,1136.77 406.56,1136.77" fill="#000000"/>
<polygon points="518.38,1122.17 526.88,1136.77 509.88,1136.77" fill="#000000"/>
<polygon points="621.71,1122.17 630.21,1136.77 613.21,1136.77" fill="#000000"/>
<polygon points="725.03,1122.17 733.53,1136.77 716.53,1136.77" fill="#000000"/>
<polygon points="828.35,1122.17 836.85,1136.77 819.85,1136.77" fill="#000000"/>
<polygon points="931.68,1122.17 940.18,1136.77 923.18,1136.77" fill="#000000"/>
<polygon points="1035,1122.17 1043.5,1136.77 1026.5,1136.77" fill="#000000"/>
<line x1="425.41" y1="792.72" x2="508.03" y2="791.9" stroke="#008000" stroke-width="3.1" stroke-linecap="round"/>
<line x1="528.73" y1="791.87" x2="611.36" y2="792.41" stroke="#008000" stroke-width="3.1" stroke-linecap="round"/>
<line x1="632.06" y1="792.41" x2="714.68" y2="791.87" stroke="#008000" stroke-width="3.1" stroke-linecap="round"/>
<line x1="735.38" y1="791.87" x2="818" y2="792.41" stroke="#008000" stroke-width="3.1" stroke-linecap="round"/>
<line x1="838.7" y1="792.45" x2="921.33" y2="792.17" stroke="#008000" stroke-width="3.1" stroke-linecap="round"/>
<line x1="942.03" y1="792.14" x2="1024.65" y2="792.14" stroke="#008000" stroke-width="3.1" stroke-linecap="round"/>
<circle cx="415.06" cy="792.83" r="7" fill="#008000"/>
<circle cx="518.38" cy="791.8" r="7" fill="#008000"/>
<circle cx="621.71" cy="792.48" r="7" fill="#008000"/>
<circle cx="725.03" cy="791.8" r="7" fill="#008000"/>
<circle cx="828.35" cy="792.48" r="7" fill="#008000"/>
<circle cx="931.68" cy="792.14" r="7" fill="#008000"/>
<circle cx="1035" cy="792.14" r="7" fill="#008000"/>
<line x1="1026.5" y1="1132.1" x2="1035" y2="1132.1" stroke="#000000" stroke-width="1.8"/>
<line x1="1026.5" y1="1063.61" x2="1035" y2="1063.61" stroke="#000000" stroke-width="1.8"/>
<line x1="1026.5" y1="995.12" x2="1035" y2="995.12" stroke="#000000" stroke-width="1.8"/>
<line x1="1026.5" y1="926.63" x2="1035" y2="926.63" stroke="#000000" stroke-width="1.8"/>
<line x1="1026.5" y1="858.14" x2="1035" y2="858.14" stroke="#000000" stroke-width="1.8"/>
<line x1="1026.5" y1="789.65" x2="1035" y2="789.65" stroke="#000000" stroke-width="1.8"/>
<line x1="1026.5" y1="721.16" x2="1035" y2="721.16" stroke="#000000" stroke-width="1.8"/>
<line x1="1035" y1="651.69" x2="1035" y2="1149.86" stroke="#000000" stroke-width="2"/>
<line x1="859.85" y1="674.2" x2="869.95" y2="674.2" stroke="#ff0000" stroke-width="3.1" stroke-linecap="round"/>
<line x1="892.75" y1="674.2" x2="902.85" y2="674.2" stroke="#ff0000" stroke-width="3.1" stroke-linecap="round"/>
<polygon points="883.2,665.1 892,674.2 883.2,683.3 874.4,674.2" fill="#ff0000"/>
<line x1="859.85" y1="699.8" x2="873.65" y2="699.8" stroke="#0000ff" stroke-width="3.1" stroke-linecap="round"/>
<line x1="892.75" y1="699.8" x2="906.45" y2="699.8" stroke="#0000ff" stroke-width="3.1" stroke-linecap="round"/>
<polygon points="883.2,691.3 885.11,697.17 891.28,697.17 886.29,700.8 888.2,706.68 883.2,703.05 878.2,706.68 880.11,700.8 875.12,697.17 881.29,697.17" fill="#0000ff"/>
<line x1="859.85" y1="725.3" x2="863.25" y2="725.3" stroke="#000000" stroke-width="3.1" stroke-linecap="round"/>
<line x1="892.75" y1="725.3" x2="896.15" y2="725.3" stroke="#000000" stroke-width="3.1" stroke-linecap="round"/>
<polygon points="883.2,715.57 891.7,730.17 874.7,730.17" fill="#000000"/>
<line x1="859.85" y1="750.8" x2="873.65" y2="750.8" stroke="#008000" stroke-width="3.1" stroke-linecap="round"/>
<line x1="892.75" y1="750.8" x2="906.45" y2="750.8" stroke="#008000" stroke-width="3.1" stroke-linecap="round"/>
<circle cx="883.2" cy="750.8" r="7" fill="#008000"/>
<text transform="translate(912.4 681.5) scale(1 1.04)" font-family="'Liberation Sans', Arial, sans-serif" font-size="20.6" fill="#0c0c0c">PPD</text>
<text transform="translate(912.4 707.1) scale(1 1.04)" font-family="'Liberation Sans', Arial, sans-serif" font-size="20.6" fill="#0c0c0c">PNR</text>
<text transform="translate(912.4 732.6) scale(1 1.04)" font-family="'Liberation Sans', Arial, sans-serif" font-size="20.6" fill="#0c0c0c">VC</text>
<text transform="translate(912.4 758.1) scale(1 1.04)" font-family="'Liberation Sans', Arial, sans-serif" font-size="20.6" fill="#0c0c0c">VCPCA</text>
<text y="625.8" font-family="'Liberation Serif', 'DejaVu Serif', serif" font-size="29" fill="#0d0d0d"><tspan x="245.3" textLength="38.7" lengthAdjust="spacingAndGlyphs"><tspan stroke="#0d0d0d" stroke-width="0.55">(</tspan><tspan font-weight="bold">a</tspan><tspan stroke="#0d0d0d" stroke-width="0.55">)</tspan></tspan> <tspan x="296.4" textLength="70.6" lengthAdjust="spacingAndGlyphs" stroke="#0d0d0d" stroke-width="0.3">AVTI</tspan> <tspan x="376.4" textLength="25.1" lengthAdjust="spacingAndGlyphs" stroke="#0d0d0d" stroke-width="0.3">of</tspan> <tspan x="409.3" textLength="32.4" lengthAdjust="spacingAndGlyphs" stroke="#0d0d0d" stroke-width="0.3">F6</tspan></text>
<text y="620.8" font-family="'Liberation Serif', 'DejaVu Serif', serif" font-size="29" fill="#0d0d0d"><tspan x="972.5" textLength="40.7" lengthAdjust="spacingAndGlyphs"><tspan stroke="#0d0d0d" stroke-width="0.55">(</tspan><tspan font-weight="bold">b</tspan><tspan stroke="#0d0d0d" stroke-width="0.55">)</tspan></tspan> <tspan x="1025.9" textLength="40.7" lengthAdjust="spacingAndGlyphs" stroke="#0d0d0d" stroke-width="0.3">OP</tspan> <tspan x="1076.4" textLength="24.7" lengthAdjust="spacingAndGlyphs" stroke="#0d0d0d" stroke-width="0.3">of</tspan> <tspan x="1109.7" textLength="32.4" lengthAdjust="spacingAndGlyphs" stroke="#0d0d0d" stroke-width="0.3">F6</tspan></text>
<text y="1254.4" font-family="'Liberation Serif', 'DejaVu Serif', serif" font-size="29" fill="#0d0d0d"><tspan x="608" textLength="36.9" lengthAdjust="spacingAndGlyphs"><tspan stroke="#0d0d0d" stroke-width="0.55">(</tspan><tspan font-weight="bold">c</tspan><tspan stroke="#0d0d0d" stroke-width="0.55">)</tspan></tspan> <tspan x="658.1" textLength="59.9" lengthAdjust="spacingAndGlyphs" stroke="#0d0d0d" stroke-width="0.3">OPF</tspan> <tspan x="727.1" textLength="24.2" lengthAdjust="spacingAndGlyphs" stroke="#0d0d0d" stroke-width="0.3">of</tspan> <tspan x="760.3" textLength="32.4" lengthAdjust="spacingAndGlyphs" stroke="#0d0d0d" stroke-width="0.3">F6</tspan></text>
</svg>
</body>
</html>
